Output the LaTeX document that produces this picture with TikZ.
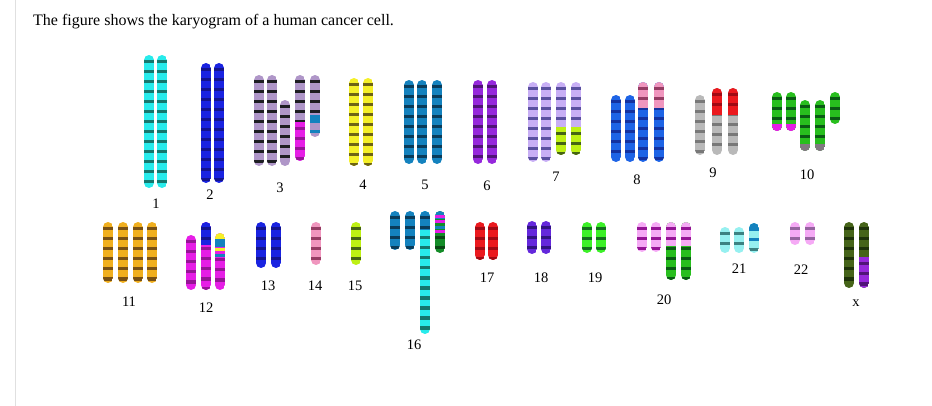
\documentclass[tikz,border=0pt]{standalone}
\usepackage{fontspec}
\setmainfont{Liberation Serif}
\begin{document}
\begin{tikzpicture}[x=1pt,y=-1pt,lbl/.style={font=\fontsize{14.5}{14.5}\selectfont,inner sep=0pt}]
\definecolor{cy}{RGB}{40,235,235}\definecolor{cyb}{RGB}{20,120,110}
\definecolor{bl}{RGB}{25,35,225}\definecolor{blb}{RGB}{20,20,140}
\definecolor{lav}{RGB}{175,150,200}\definecolor{lavb}{RGB}{30,30,35}
\definecolor{mag}{RGB}{230,30,230}\definecolor{magb}{RGB}{150,20,150}
\definecolor{yel}{RGB}{245,240,40}\definecolor{yelb}{RGB}{110,100,20}
\definecolor{tb}{RGB}{20,130,190}\definecolor{tbb}{RGB}{10,60,90}
\definecolor{pur}{RGB}{150,40,220}\definecolor{purb}{RGB}{80,20,120}
\definecolor{lil}{RGB}{200,175,245}\definecolor{lilb}{RGB}{90,80,160}
\definecolor{lg}{RGB}{190,240,20}\definecolor{lgb}{RGB}{70,100,20}
\definecolor{mb}{RGB}{30,100,230}\definecolor{mbb}{RGB}{20,50,160}
\definecolor{pk}{RGB}{240,150,190}\definecolor{pkb}{RGB}{150,60,100}
\definecolor{gr}{RGB}{185,185,185}\definecolor{grb}{RGB}{120,120,120}
\definecolor{rd}{RGB}{235,25,30}\definecolor{rdb}{RGB}{160,10,20}
\definecolor{gn}{RGB}{40,190,30}\definecolor{gnb}{RGB}{10,90,20}
\definecolor{org}{RGB}{240,175,30}\definecolor{orgb}{RGB}{120,80,20}
\definecolor{vi}{RGB}{100,40,220}\definecolor{vib}{RGB}{50,20,130}
\definecolor{bg}{RGB}{60,240,40}\definecolor{bgb}{RGB}{20,110,30}
\definecolor{lcy}{RGB}{150,240,240}\definecolor{lcyb}{RGB}{60,130,130}
\definecolor{lpk}{RGB}{245,170,245}\definecolor{lpkb}{RGB}{150,100,160}
\definecolor{ol}{RGB}{70,100,25}\definecolor{olb}{RGB}{30,50,10}
\definecolor{dg}{RGB}{20,140,40}\definecolor{dgb}{RGB}{10,70,20}
\definecolor{gy}{RGB}{130,120,130}
\newcommand\chrseg[7]{%
 \begin{scope}
 \path[clip,rounded corners=5] (#1-5,#2) rectangle (#1+5,#3);
 \fill[#6] (#1-5,#4) rectangle (#1+5,#5);
 \pgfmathsetmacro\ya{#4+5}\pgfmathsetmacro\yb{#4+15}\pgfmathsetmacro\yc{#5-3}
 \foreach \yy in {\ya,\yb,...,\yc} \fill[#7] (#1-5,\yy) rectangle (#1+5,\yy+3.5);
 \end{scope}}
\newcommand\chr[5]{\chrseg{#1}{#2}{#3}{#2}{#3}{#4}{#5}}
\useasboundingbox (0,0) rectangle (932,406);
\fill[white] (0,0) rectangle (932,406);
\draw[black!12] (15,0) -- (15,406);
\node[anchor=base west,inner sep=0pt,font=\fontsize{16}{16}\selectfont] (title) at (33,26) {The figure shows the karyogram of a human cancer cell.};
% row 1
\chr{149}{55}{188}{cy}{cyb}\chr{162}{55}{188}{cy}{cyb}
\node[lbl] (l1) at (156,204) {1};
\chr{206}{63}{183}{bl}{blb}\chr{219}{63}{183}{bl}{blb}
\node[lbl] (l2) at (210,195) {2};
\chr{259}{75}{166}{lav}{lavb}\chr{272}{75}{166}{lav}{lavb}\chr{285}{100}{166}{lav}{lavb}
\chr{300}{75}{161}{lav}{lavb}\chrseg{300}{75}{161}{122}{161}{mag}{magb}
\chr{315}{75}{137}{lav}{lavb}\chrseg{315}{75}{137}{115}{120}{tb}{tb}
\node[lbl] (l3) at (280,188) {3};
\chr{354}{78}{166}{yel}{yelb}\chr{368}{78}{166}{yel}{yelb}
\node[lbl] (l4) at (363,185) {4};
\chr{409}{80}{164}{tb}{tbb}\chr{422}{80}{164}{tb}{tbb}\chr{437}{80}{164}{tb}{tbb}
\node[lbl] (l5) at (425,185) {5};
\chr{478}{80}{164}{pur}{purb}\chr{492}{80}{164}{pur}{purb}
\node[lbl] (l6) at (487,186) {6};
\chr{533}{82}{162}{lil}{lilb}\chr{546}{82}{162}{lil}{lilb}
\chr{561}{82}{155}{lil}{lilb}\chrseg{561}{82}{155}{127}{155}{lg}{lgb}
\chr{576}{82}{155}{lil}{lilb}\chrseg{576}{82}{155}{127}{155}{lg}{lgb}
\node[lbl] (l7) at (556,177) {7};
\chr{616}{95}{162}{mb}{mbb}\chr{630}{95}{162}{mb}{mbb}
\chr{643}{82}{162}{mb}{mbb}\chrseg{643}{82}{162}{82}{108}{pk}{pkb}
\chr{659}{82}{162}{mb}{mbb}\chrseg{659}{82}{162}{82}{108}{pk}{pkb}
\node[lbl] (l8) at (637,180) {8};
\chr{700}{95}{155}{gr}{grb}
\chr{717}{88}{155}{gr}{grb}\chrseg{717}{88}{155}{88}{115}{rd}{rdb}
\chr{733}{88}{155}{gr}{grb}\chrseg{733}{88}{155}{88}{115}{rd}{rdb}
\node[lbl] (l9) at (713,173) {9};
\chr{777}{92}{131}{gn}{gnb}\chrseg{777}{92}{131}{124}{131}{mag}{mag}
\chr{791}{92}{131}{gn}{gnb}\chrseg{791}{92}{131}{124}{131}{mag}{mag}
\chr{805}{100}{151}{gn}{gnb}\chrseg{805}{100}{151}{144}{151}{gy}{gy}
\chr{820}{100}{151}{gn}{gnb}\chrseg{820}{100}{151}{144}{151}{gy}{gy}
\chr{835}{92}{124}{gn}{gnb}
\node[lbl] (l10) at (807,175) {10};
% row 2
\chr{108}{222}{283}{org}{orgb}\chr{123}{222}{283}{org}{orgb}\chr{138}{222}{283}{org}{orgb}\chr{152}{222}{283}{org}{orgb}
\node[lbl] (l11) at (129,302) {11};
\chr{191}{235}{290}{mag}{magb}
\chr{206}{222}{290}{mag}{magb}\chrseg{206}{222}{290}{222}{245}{bl}{blb}
\chr{220}{233}{290}{mag}{magb}\chrseg{220}{233}{290}{233}{239}{yel}{yel}\chrseg{220}{233}{290}{239}{244}{tb}{tb}
\node[lbl] (l12) at (206,308) {12};
\chr{261}{222}{268}{bl}{blb}\chr{276}{222}{268}{bl}{blb}
\node[lbl] (l13) at (268,286) {13};
\chr{316}{222}{265}{pk}{pkb}
\node[lbl] (l14) at (315,286) {14};
\chr{356}{222}{265}{lg}{lgb}
\node[lbl] (l15) at (355,286) {15};
\chr{395}{211}{250}{tb}{tbb}\chr{410}{211}{250}{tb}{tbb}
\chr{425}{211}{334}{cy}{cyb}\chrseg{425}{211}{334}{211}{230}{tb}{tbb}
\chr{440}{211}{253}{dg}{dgb}\chrseg{440}{211}{253}{211}{218}{tb}{tb}\chrseg{440}{211}{253}{215}{218}{mag}{mag}
\node[lbl] (l16) at (414,345) {16};
\chr{480}{222}{260}{rd}{rdb}\chr{493}{222}{260}{rd}{rdb}
\node[lbl] (l17) at (487,278) {17};
\chr{532}{221}{254}{vi}{vib}\chr{546}{221}{254}{vi}{vib}
\node[lbl] (l18) at (541,278) {18};
\chr{587}{222}{253}{bg}{bgb}\chr{601}{222}{253}{bg}{bgb}
\node[lbl] (l19) at (595,278) {19};
\chr{642}{222}{252}{lpk}{magb}\chr{656}{222}{252}{lpk}{magb}
\chr{671}{222}{280}{gn}{gnb}\chrseg{671}{222}{280}{222}{246}{lpk}{magb}
\chr{686}{222}{280}{gn}{gnb}\chrseg{686}{222}{280}{222}{246}{lpk}{magb}
\node[lbl] (l20) at (664,300) {20};
\chr{725}{227}{253}{lcy}{lcyb}\chr{739}{227}{253}{lcy}{lcyb}
\chr{754}{223}{253}{lcy}{lcyb}\chrseg{754}{223}{253}{223}{231}{tb}{tb}
\node[lbl] (l21) at (739,269) {21};
\chr{795}{222}{245}{lpk}{lpkb}\chr{810}{222}{245}{lpk}{lpkb}
\node[lbl] (l22) at (801,270) {22};
\chr{849}{222}{288}{ol}{olb}
\chr{864}{222}{288}{ol}{olb}\chrseg{864}{222}{288}{257}{288}{pur}{purb}
\node[lbl] (lx) at (856,303) {x};
\end{tikzpicture}
\end{document}
